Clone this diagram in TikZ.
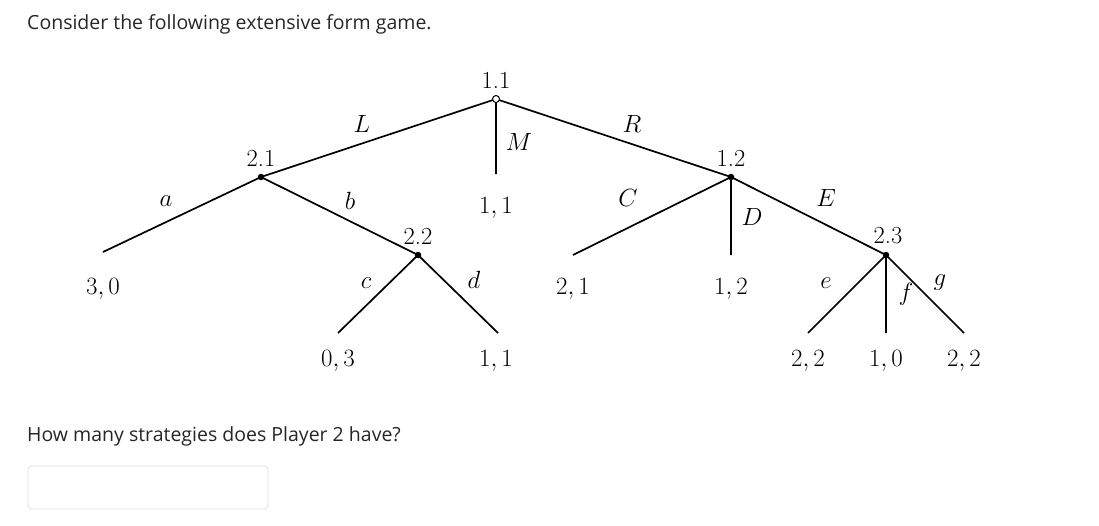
\documentclass[tikz,border=0pt]{standalone}
\usepackage{fontspec}
\newfontfamily\ui{Open Sans}
\begin{document}
\begin{tikzpicture}[x=1pt,y=-1pt,
  br/.style={line width=1.7pt},
  dot/.style={circle,fill=black,inner sep=0pt,minimum size=6.5pt},
  hol/.style={circle,draw=black,fill=white,line width=1pt,inner sep=0pt,minimum size=7pt},
  lb/.style={font=\fontsize{24.5}{27}\selectfont,inner sep=0pt},
  ui/.style={font=\ui\fontsize{19.5}{22}\selectfont,anchor=west,inner sep=0pt,text=black!85}]
\useasboundingbox (0,0) rectangle (1099,525);
\node[ui] (t1) at (27,24) {Consider the following extensive form game.};
\node[ui] (t2) at (27,436) {How many strategies does Player 2 have?};
\draw[black!12,rounded corners=4pt,line width=0.8pt] (28,466) rectangle (268,509);
% nodes
\coordinate (r) at (496,99);
\coordinate (n21) at (261,177);
\coordinate (n12) at (731,177);
\coordinate (n22) at (418,255);
\coordinate (n23) at (886,255);
\coordinate (la) at (103,252);
\coordinate (lM) at (496,174);
\coordinate (lc) at (338,333);
\coordinate (ld) at (498,333);
\coordinate (lC) at (573,255);
\coordinate (lD) at (731,255);
\coordinate (le) at (808,333);
\coordinate (lf) at (886,333);
\coordinate (lg) at (964,333);
\draw[br] (r)--(n21) (r)--(lM) (r)--(n12) (n21)--(la) (n21)--(n22) (n22)--(lc) (n22)--(ld)
  (n12)--(lC) (n12)--(lD) (n12)--(n23) (n23)--(le) (n23)--(lf) (n23)--(lg);
\node[hol] at (r) {};
\foreach \p in {n21,n12,n22,n23} \node[dot] at (\p) {};
\node[lb] at (496,80) {1.1};
\node[lb] at (261,158) {2.1};
\node[lb] at (731,158) {1.2};
\node[lb] at (418,236) {2.2};
\node[lb] at (888,236) {2.3};
\node[lb] at (362,124) {$L$};
\node[lb] at (519,142) {$M$};
\node[lb] at (632,124) {$R$};
\node[lb] at (166,201) {$a$};
\node[lb] at (350,201) {$b$};
\node[lb] at (628,198) {$C$};
\node[lb] at (752,217) {$D$};
\node[lb] at (826,198) {$E$};
\node[lb] at (366,283) {$c$};
\node[lb] at (474,280) {$d$};
\node[lb] at (826,283) {$e$};
\node[lb] at (906,294) {$f$};
\node[lb] at (940,283) {$g$};
\node[lb] at (496,208) {$1,1$};
\node[lb] at (103,289) {$3,0$};
\node[lb] at (573,289) {$2,1$};
\node[lb] at (731,289) {$1,2$};
\node[lb] at (338,361) {$0,3$};
\node[lb] at (496,361) {$1,1$};
\node[lb] at (808,361) {$2,2$};
\node[lb] at (886,361) {$1,0$};
\node[lb] at (964,361) {$2,2$};
\end{tikzpicture}
\end{document}
